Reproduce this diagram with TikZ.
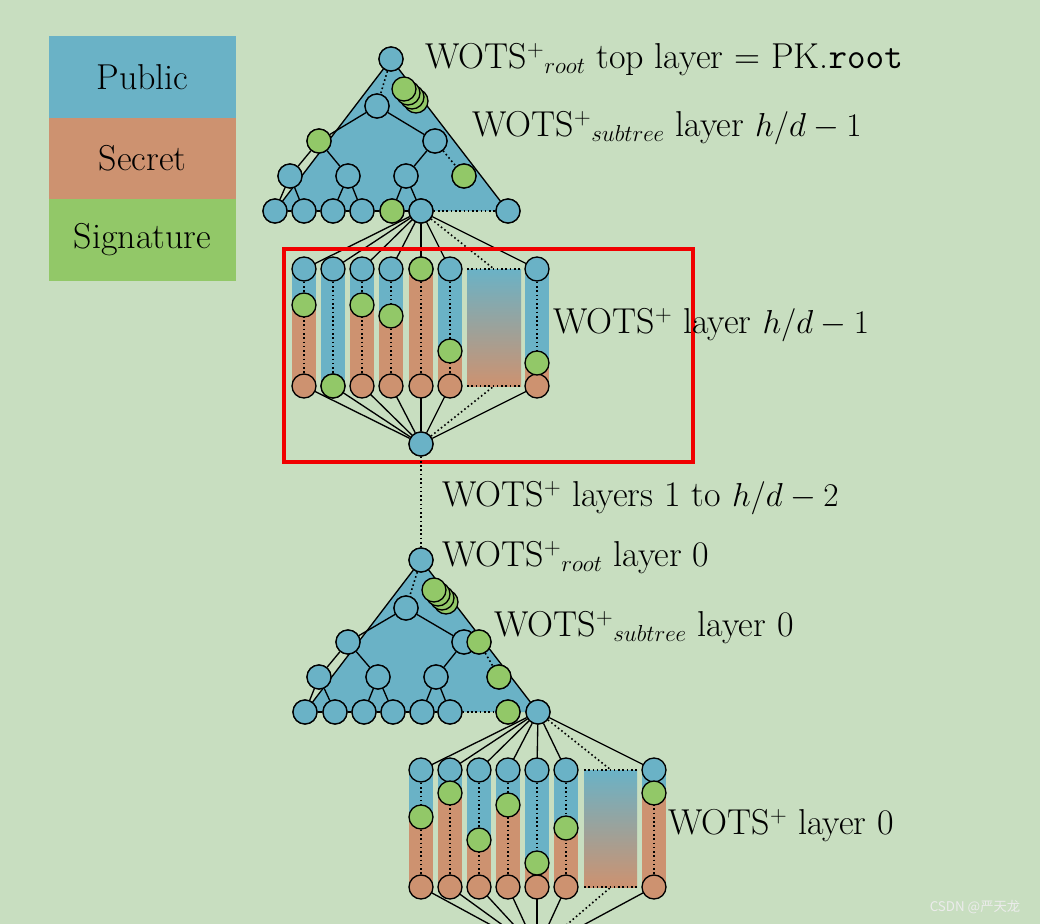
\documentclass[tikz,border=0pt]{standalone}
\usepackage{fontspec}
\newfontfamily\cjk{Noto Sans CJK SC}
\definecolor{bgc}{RGB}{200,222,192}
\definecolor{pubc}{RGB}{106,178,198}
\definecolor{secc}{RGB}{205,146,112}
\definecolor{sigc}{RGB}{146,200,104}
\definecolor{redc}{RGB}{240,0,0}
\tikzset{
 nd/.style={circle,draw=black,line width=1pt,minimum size=18pt,inner sep=0pt},
 pb/.style={nd,fill=pubc}, sc/.style={nd,fill=secc}, sg/.style={nd,fill=sigc},
 ln/.style={line width=1pt},
 dl/.style={line width=1.2pt,dotted},
 lab/.style={anchor=west,inner sep=0pt,font=\fontsize{27}{30}\selectfont},
 leg/.style={minimum width=140.25pt,minimum height=61pt,inner sep=0pt,font=\fontsize{27}{30}\selectfont}
}
\newcommand\wchain[5]{%
 \fill[pubc] ({#2-12},#3) rectangle ({#2+12},#5);
 \fill[secc] ({#2-12},#5) rectangle ({#2+12},#4);
 \draw[dl] (#2,#3) -- (#2,#4);
 \node[pb] (#1t) at (#2,#3) {};
 \node[sc] (#1b) at (#2,#4) {};
 \node[sg] (#1g) at (#2,#5) {};
}
\begin{document}
\begin{tikzpicture}[x=0.75pt,y=-0.75pt]
\useasboundingbox (0,0) rectangle (1040,924);
\fill[bgc] (0,0) rectangle (1040,924);
% legend
\node[leg,fill=pubc] (lp) at (142.5,77) {Public};
\node[leg,fill=secc] (ls) at (142.5,158.5) {Secret};
\node[leg,fill=sigc] (lg) at (142.5,240) {Signature};

% ===== top tree =====
\fill[pubc] (391,59) -- (275,211) -- (508,211) -- cycle;
\coordinate (tA) at (391,59);
\node[pb] (t0) at (391,59) {};
\node[pb] (t1) at (377,106) {};
\node[sg] (t2a) at (319,141) {};
\node[pb] (t2b) at (435,141) {};
\node[pb] (t3a) at (290,176) {};
\node[pb] (t3b) at (348,176) {};
\node[pb] (t3c) at (406,176) {};
\node[sg] (t3d) at (464,176) {};
\node[pb] (l1) at (275,211) {};
\node[pb] (l2) at (304,211) {};
\node[pb] (l3) at (333,211) {};
\node[pb] (l4) at (362,211) {};
\node[sg] (l5) at (392,211) {};
\node[pb] (l6) at (421,211) {};
\node[pb] (l7) at (508,211) {};
\begin{scope}[on background layer/.try]
\end{scope}
\draw[ln] (t0) -- (l1); \draw[ln] (t0) -- (l7);
\draw[ln] (l1) -- (l2) -- (l3) -- (l4) -- (l5) -- (l6);
\draw[dl] (l6) -- (l7);
\draw[dl] (t0) -- (t1);
\draw[ln] (t1) -- (t2a); \draw[ln] (t1) -- (t2b);
\draw[ln] (t2a) -- (t3a); \draw[ln] (t2a) -- (t3b);
\draw[ln] (t2b) -- (t3c); \draw[dl] (t2b) -- (t3d);
\draw[ln] (t3a) -- (l1); \draw[ln] (t3a) -- (l2);
\draw[ln] (t3b) -- (l3); \draw[ln] (t3b) -- (l4);
\draw[ln] (t3c) -- (l5); \draw[ln] (t3c) -- (l6);
% redraw nodes on top
\foreach \n/\s/\x/\y in {t0/pb/391/59,t1/pb/377/106,t2a/sg/319/141,t2b/pb/435/141,t3a/pb/290/176,t3b/pb/348/176,t3c/pb/406/176,t3d/sg/464/176,l1/pb/275/211,l2/pb/304/211,l3/pb/333/211,l4/pb/362/211,l5/sg/392/211,l6/pb/421/211,l7/pb/508/211}
  \node[\s] at (\x,\y) {};
\node[sg] (s4) at (416,101) {};
\node[sg] (s3) at (412,97) {};
\node[sg] (s2) at (408,93) {};
\node[sg] (s1) at (404,89) {};

% ===== top WOTS =====
\coordinate (rt) at (494,269);
\coordinate (rb) at (494,386);
\node[pb] (wr) at (421,444) {};
\foreach \x in {304,333,362,391,421,450,537} {\draw[ln] (l6) -- (\x,269); \draw[ln] (wr) -- (\x,386);}
\draw[dl] (l6) -- (rt); \draw[dl] (wr) -- (rb);
\node[pb] at (421,211) {};
\node[pb] at (421,444) {};
\shade[top color=pubc,bottom color=secc] (467,269) rectangle (521,386);
\draw[dl] (467,269) -- (521,269); \draw[dl] (467,386) -- (521,386);
\wchain{a1}{304}{269}{386}{305}
\wchain{a2}{333}{269}{386}{386}
\wchain{a3}{362}{269}{386}{305}
\wchain{a4}{391}{269}{386}{316}
\wchain{a5}{421}{269}{386}{269}
\wchain{a6}{450}{269}{386}{351}
\wchain{a7}{537}{269}{386}{363}
\draw[redc,line width=2.3pt] (284,249) rectangle (693,462);

% ===== bottom tree =====
\fill[pubc] (421,560) -- (305,712) -- (538,712) -- cycle;
\node[pb] (b0) at (421,560) {};
\draw[dl] (wr) -- (b0);
\node[pb] (b1) at (406,608) {};
\node[pb] (b2a) at (348,642) {};
\node[pb] (b2b) at (464,642) {};
\node[sg] (b2g) at (479,642) {};
\node[pb] (b3a) at (319,677) {};
\node[pb] (b3b) at (378,677) {};
\node[pb] (b3c) at (436,677) {};
\node[sg] (b3d) at (499,677) {};
\foreach \i/\x in {1/305,2/335,3/364,4/393,5/422,6/450} \node[pb] (m\i) at (\x,712) {};
\node[sg] (m7) at (508,712) {};
\node[pb] (m8) at (538,712) {};
\draw[ln] (b0) -- (m1); \draw[ln] (b0) -- (m8);
\draw[ln] (m1) -- (m2) -- (m3) -- (m4) -- (m5) -- (m6);
\draw[dl] (m6) -- (m7);
\draw[dl] (b0) -- (b1);
\draw[ln] (b1) -- (b2a); \draw[ln] (b1) -- (b2b);
\draw[ln] (b2a) -- (b3a); \draw[ln] (b2a) -- (b3b);
\draw[ln] (b2b) -- (b3c); \draw[dl] (b2g) -- (b3d);
\draw[ln] (b3a) -- (m1); \draw[ln] (b3a) -- (m2);
\draw[ln] (b3b) -- (m3); \draw[ln] (b3b) -- (m4);
\draw[ln] (b3c) -- (m5); \draw[ln] (b3c) -- (m6);
\foreach \s/\x/\y in {pb/421/560,pb/406/608,pb/348/642,pb/464/642,sg/479/642,pb/319/677,pb/378/677,pb/436/677,sg/499/677,pb/305/712,pb/335/712,pb/364/712,pb/393/712,pb/422/712,pb/450/712,sg/508/712}
  \node[\s] at (\x,\y) {};
\node[sg] (u4) at (446,602) {};
\node[sg] (u3) at (442,598) {};
\node[sg] (u2) at (438,594) {};
\node[sg] (u1) at (434,590) {};

% ===== bottom WOTS =====
\coordinate (qt) at (611,770);
\coordinate (qb) at (611,887);
\coordinate (fr) at (537,950);
\foreach \x in {421,450,479,508,537,566,654} {\draw[ln] (m8) -- (\x,770); \draw[ln] (fr) -- (\x,887);}
\draw[dl] (m8) -- (qt); \draw[dl] (fr) -- (qb);
\node[pb] at (538,712) {};
\shade[top color=pubc,bottom color=secc] (584,770) rectangle (637,887);
\draw[dl] (584,770) -- (637,770); \draw[dl] (584,887) -- (637,887);
\wchain{c1}{421}{770}{887}{817}
\wchain{c2}{450}{770}{887}{793}
\wchain{c3}{479}{770}{887}{840}
\wchain{c4}{508}{770}{887}{805}
\wchain{c5}{537}{770}{887}{863}
\wchain{c6}{566}{770}{887}{828}
\wchain{c7}{654}{770}{887}{793}

% ===== labels =====
\node[lab] (x1) at (425,60) {WOTS$^+{}_{root}$ top layer = PK.\texttt{root}};
\node[lab] (x2) at (472,128) {WOTS$^+{}_{subtree}$ layer $h/d-1$};
\node[lab] (x3) at (553,325) {WOTS$^+$ layer $h/d-1$};
\node[lab] (x4) at (442,498) {WOTS$^+$ layers 1 to $h/d-2$};
\node[lab] (x5) at (442,558) {WOTS$^+{}_{root}$ layer 0};
\node[lab] (x6) at (494,628) {WOTS$^+{}_{subtree}$ layer 0};
\node[lab] (x7) at (668,826) {WOTS$^+$ layer 0};
\node[anchor=east,text=white!85!gray,font=\cjk\fontsize{10}{12}\selectfont] (wm) at (1025,907) {CSDN @严天龙};
\end{tikzpicture}
\end{document}
